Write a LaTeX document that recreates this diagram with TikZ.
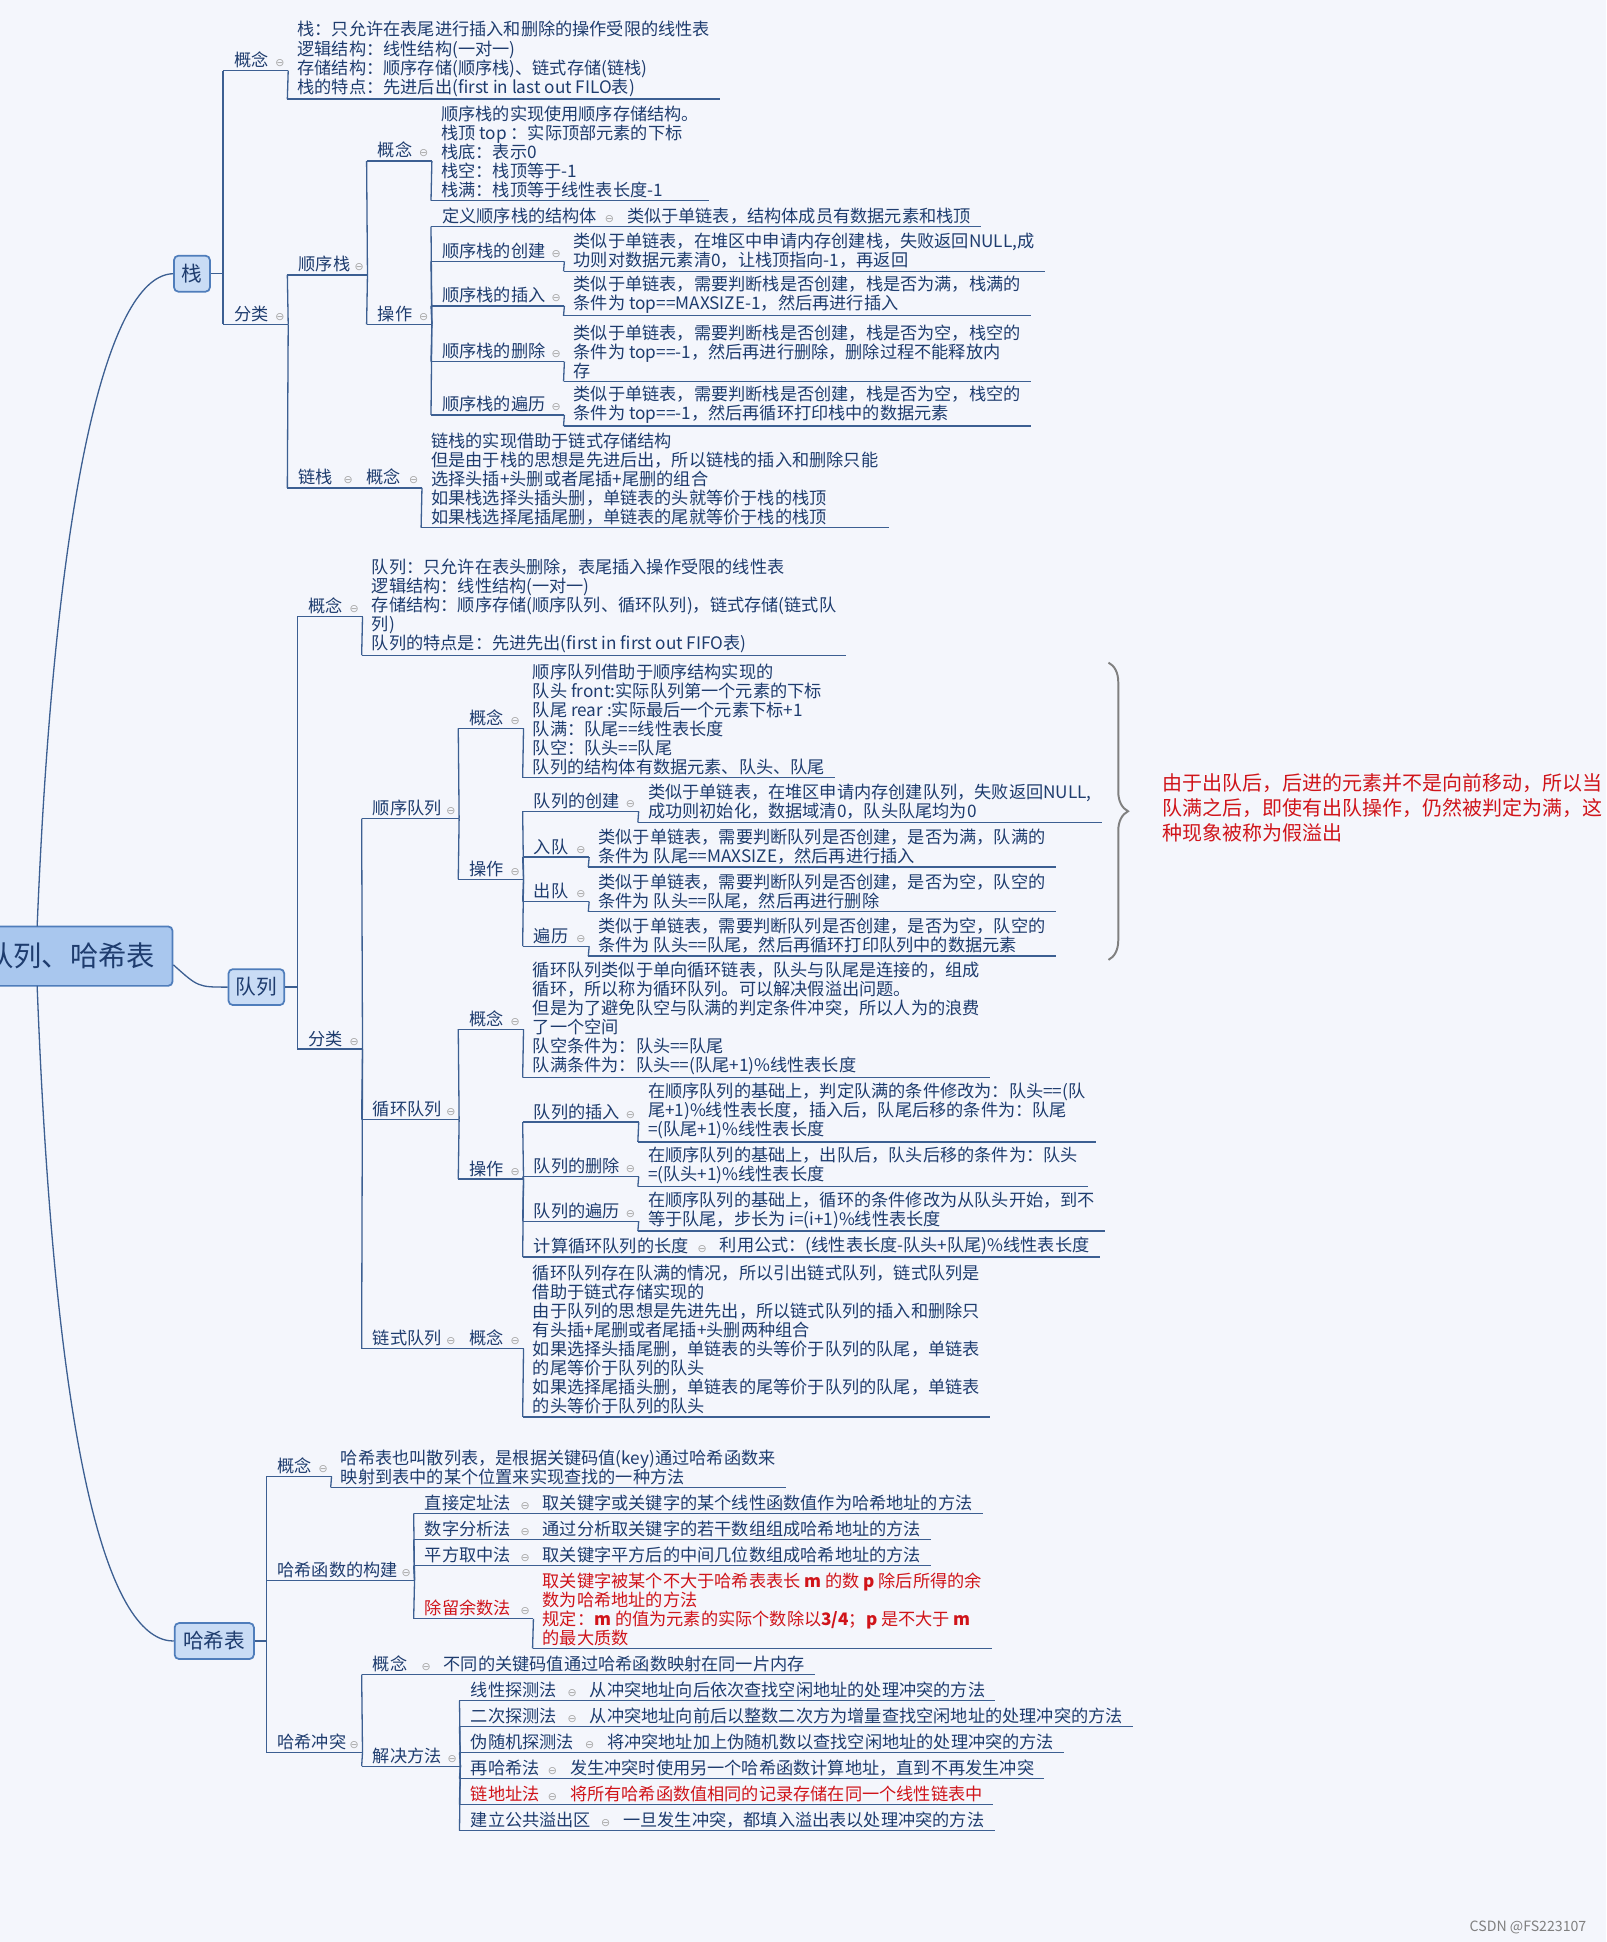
\documentclass[tikz,border=0pt]{standalone}
\usepackage{fontspec}
\setmainfont{Noto Sans CJK SC}
\newfontfamily\symf{DejaVu Sans}
\usetikzlibrary{positioning}
\usetikzlibrary{decorations.pathreplacing}
\definecolor{bg}{HTML}{F4F6FC}
\definecolor{linec}{HTML}{3C5F92}
\definecolor{txt}{HTML}{1E3C6E}
\definecolor{boxf}{HTML}{C9DCF5}
\definecolor{rootf}{HTML}{A9C7EE}
\definecolor{boxd}{HTML}{4F7DBB}
\definecolor{redt}{HTML}{D0141A}
\newcommand\mf{\fontsize{7.9}{8.75}\selectfont}
\newcommand\fd{\hfill{\symf\color{gray!70}\fontsize{5}{5}\selectfont ⊖}\hspace*{1.5pt}}
\tikzset{
  lnk/.style={draw=linec, line width=0.6pt},
  leaf/.style={anchor=south west, align=left, inner xsep=4.5pt, inner ysep=1pt,
    text=txt, font=\mf,
    append after command={(\tikzlastnode.south west) edge[lnk] (\tikzlastnode.south east)}},
  lab/.style={anchor=south west, inner xsep=0pt, inner ysep=1pt, text=txt, font=\mf,
    /utils/exec={\pgfmathsetlengthmacro\labw{#1*0.02cm}}, text width=\labw,
    execute at begin node=\hspace*{5pt},
    append after command={(\tikzlastnode.south west) edge[lnk] (\tikzlastnode.south east)}},
  box/.style={draw=boxd, fill=boxf, rounded corners=2pt, line width=0.8pt, text=txt,
    font=\fontsize{9.5}{11}\selectfont, minimum height=29*0.02cm, inner sep=2pt},
  red/.style={text=redt}
}
\begin{document}
\begin{tikzpicture}[x=0.02cm,y=-0.02cm]
\useasboundingbox (0,0) rectangle (1297,1568);
\clip (0,0) rectangle (1297,1568);
\fill[bg] (0,0) rectangle (1297,1568);
%%%%%%%%% root
\node[box, fill=rootf, anchor=east, minimum height=48*0.02cm, font=\fontsize{13}{15}\selectfont, inner xsep=8pt] (root) at (140,772) {栈、队列、哈希表};
\coordinate (rt) at (30,748);
\coordinate (rb) at (30,796);
\node[box, minimum width=29*0.02cm] (z) at (155,221) {栈};
\node[box, minimum width=45*0.02cm] (d) at (207,797) {队列};
\node[box, minimum width=64*0.02cm] (h) at (173,1325) {哈希表};
\draw[lnk] (rt) .. controls (45,380) and (90,222) .. (z.west);
\draw[lnk] ([yshift=-4pt]root.east) .. controls (160,797) .. (d.west);
\draw[lnk] (rb) .. controls (45,1190) and (90,1325) .. (h.west);
%%%%%%%%% 栈
\node[lab=52] (zk) at (180,57) {概念\fd};
\node[leaf] (zk1) at (232,80) {栈：只允许在表尾进行插入和删除的操作受限的线性表\\逻辑结构：线性结构(一对一)\\存储结构：顺序存储(顺序栈)、链式存储(链栈)\\栈的特点：先进后出(first in last out FILO表)};
\node[lab=52] (zf) at (180,262) {分类\fd};
\node[lab=64] (zs) at (232,222) {顺序栈\fd};
\node[lab=52] (zsk) at (296,130) {概念\fd};
\node[leaf] (zsk1) at (348,162) {顺序栈的实现使用顺序存储结构。\\栈顶 top ：实际顶部元素的下标\\栈底：表示0\\栈空：栈顶等于-1\\栈满：栈顶等于线性表长度-1};
\node[lab=52] (zso) at (296,262) {操作\fd};
\node[lab=150] (zo1) at (348,183) {定义顺序栈的结构体\fd};
\node[leaf] (zo1a) at (498,183) {类似于单链表，结构体成员有数据元素和栈顶};
\node[lab=107] (zo2) at (348,211) {顺序栈的创建\fd};
\node[leaf] (zo2a) at (455,219) {类似于单链表，在堆区中申请内存创建栈，失败返回NULL,成\\功则对数据元素清0，让栈顶指向-1，再返回};
\node[lab=107] (zo3) at (348,247) {顺序栈的插入\fd};
\node[leaf] (zo3a) at (455,255) {类似于单链表，需要判断栈是否创建，栈是否为满，栈满的\\条件为 top==MAXSIZE-1，然后再进行插入};
\node[lab=107] (zo4) at (348,292) {顺序栈的删除\fd};
\node[leaf] (zo4a) at (455,308) {类似于单链表，需要判断栈是否创建，栈是否为空，栈空的\\条件为 top==-1，然后再进行删除，删除过程不能释放内\\存};
\node[lab=107] (zo5) at (348,335) {顺序栈的遍历\fd};
\node[leaf] (zo5a) at (455,344) {类似于单链表，需要判断栈是否创建，栈是否为空，栈空的\\条件为 top==-1，然后再循环打印栈中的数据元素};
\node[lab=55] (zl) at (232,394) {链栈\fd};
\node[lab=53] (zlk) at (287,394) {概念\fd};
\node[leaf] (zlk1) at (340,426) {链栈的实现借助于链式存储结构\\但是由于栈的思想是先进后出，所以链栈的插入和删除只能\\选择头插+头删或者尾插+尾删的组合\\如果栈选择头插头删，单链表的头就等价于栈的栈顶\\如果栈选择尾插尾删，单链表的尾就等价于栈的栈顶};
%%%%%%%%% 队列
\node[lab=52] (dk) at (240,498) {概念\fd};
\node[leaf] (dk1) at (292,529) {队列：只允许在表头删除，表尾插入操作受限的线性表\\逻辑结构：线性结构(一对一)\\存储结构：顺序存储(顺序队列、循环队列)，链式存储(链式队\\列)\\队列的特点是：先进先出(first in first out FIFO表)};
\node[lab=52] (df) at (240,847) {分类\fd};
\node[lab=78] (ds) at (292,661) {顺序队列\fd};
\node[lab=52] (dsk) at (370,588) {概念\fd};
\node[leaf] (dsk1) at (422,628) {顺序队列借助于顺序结构实现的\\队头 front:实际队列第一个元素的下标\\队尾 rear :实际最后一个元素下标+1\\队满：队尾==线性表长度\\队空：队头==队尾\\队列的结构体有数据元素、队头、队尾};
\node[lab=52] (dso) at (370,710) {操作\fd};
\node[lab=93] (do1) at (422,655) {队列的创建\fd};
\node[leaf] (do1a) at (515,664) {类似于单链表，在堆区申请内存创建队列，失败返回NULL,\\成功则初始化，数据域清0，队头队尾均为0};
\node[lab=53] (do2) at (422,692) {入队\fd};
\node[leaf] (do2a) at (475,700) {类似于单链表，需要判断队列是否创建，是否为满，队满的\\条件为 队尾==MAXSIZE，然后再进行插入};
\node[lab=53] (do3) at (422,728) {出队\fd};
\node[leaf] (do3a) at (475,736) {类似于单链表，需要判断队列是否创建，是否为空，队空的\\条件为 队头==队尾，然后再进行删除};
\node[lab=53] (do4) at (422,764) {遍历\fd};
\node[leaf] (do4a) at (475,772) {类似于单链表，需要判断队列是否创建，是否为空，队空的\\条件为 队头==队尾，然后再循环打印队列中的数据元素};
\node[lab=78] (dc) at (292,904) {循环队列\fd};
\node[lab=52] (dck) at (370,831) {概念\fd};
\node[leaf] (dck1) at (422,870) {循环队列类似于单向循环链表，队头与队尾是连接的，组成\\循环，所以称为循环队列。可以解决假溢出问题。\\但是为了避免队空与队满的判定条件冲突，所以人为的浪费\\了一个空间\\队空条件为：队头==队尾\\队满条件为：队头==(队尾+1)\%线性表长度};
\node[lab=52] (dco) at (370,952) {操作\fd};
\node[lab=93] (dc1) at (422,906) {队列的插入\fd};
\node[leaf] (dc1a) at (515,922) {在顺序队列的基础上，判定队满的条件修改为：队头==(队\\尾+1)\%线性表长度，插入后，队尾后移的条件为：队尾\\=(队尾+1)\%线性表长度};
\node[lab=93] (dc2) at (422,950) {队列的删除\fd};
\node[leaf] (dc2a) at (515,958) {在顺序队列的基础上，出队后，队头后移的条件为：队头\\=(队头+1)\%线性表长度};
\node[lab=93] (dc3) at (422,986) {队列的遍历\fd};
\node[leaf] (dc3a) at (515,994) {在顺序队列的基础上，循环的条件修改为从队头开始，到不\\等于队尾，步长为 i=(i+1)\%线性表长度};
\node[lab=151] (dc4) at (422,1015) {计算循环队列的长度\fd};
\node[leaf] (dc4a) at (573,1015) {利用公式：(线性表长度-队头+队尾)\%线性表长度};
\node[lab=78] (dl) at (292,1089) {链式队列\fd};
\node[lab=52] (dlk) at (370,1089) {概念\fd};
\node[leaf] (dlk1) at (422,1144) {循环队列存在队满的情况，所以引出链式队列，链式队列是\\借助于链式存储实现的\\由于队列的思想是先进先出，所以链式队列的插入和删除只\\有头插+尾删或者尾插+头删两种组合\\如果选择头插尾删，单链表的头等价于队列的队尾，单链表\\的尾等价于队列的队头\\如果选择尾插头删，单链表的尾等价于队列的队尾，单链表\\的头等价于队列的队头};
\draw[decorate, decoration={brace, amplitude=9pt}, gray, line width=0.9pt] (895,535) -- (895,775);
\node[anchor=north west, align=left, text=redt, font=\fontsize{9.2}{11.5}\selectfont, inner sep=0pt] (note) at (938,624) {由于出队后，后进的元素并不是向前移动，所以当\\队满之后，即使有出队操作，仍然被判定为满，这\\种现象被称为假溢出};
%%%%%%%%% 哈希表
\node[lab=52] (hk) at (215,1192) {概念\fd};
\node[leaf] (hk1) at (267,1201) {哈希表也叫散列表，是根据关键码值(key)通过哈希函数来\\映射到表中的某个位置来实现查找的一种方法};
\node[lab=119] (hf) at (215,1276) {哈希函数的构建\fd};
\node[lab=96] (hf1) at (334,1222) {直接定址法\fd};
\node[leaf] (hf1a) at (430,1222) {取关键字或关键字的某个线性函数值作为哈希地址的方法};
\node[lab=96] (hf2) at (334,1243) {数字分析法\fd};
\node[leaf] (hf2a) at (430,1243) {通过分析取关键字的若干数组组成哈希地址的方法};
\node[lab=96] (hf3) at (334,1264) {平方取中法\fd};
\node[leaf] (hf3a) at (430,1264) {取关键字平方后的中间几位数组成哈希地址的方法};
\node[lab=96, red] (hf4) at (334,1307) {除留余数法\fd};
\node[leaf, red] (hf4a) at (430,1331) {取关键字被某个不大于哈希表表长 \textbf{m} 的数 \textbf{p} 除后所得的余\\数为哈希地址的方法\\规定：\textbf{m} 的值为元素的实际个数除以\textbf{3/4}；\textbf{p} 是不大于 \textbf{m}\\的最大质数};
\node[lab=77] (hc) at (215,1415) {哈希冲突\fd};
\node[lab=58] (hck) at (292,1352) {概念\fd};
\node[leaf] (hck1) at (350,1352) {不同的关键码值通过哈希函数映射在同一片内存};
\node[lab=79] (hcm) at (292,1426) {解决方法\fd};
\node[lab=97] (hm1) at (371,1373) {线性探测法\fd};
\node[leaf] (hm1a) at (468,1373) {从冲突地址向后依次查找空闲地址的处理冲突的方法};
\node[lab=97] (hm2) at (371,1394) {二次探测法\fd};
\node[leaf] (hm2a) at (468,1394) {从冲突地址向前后以整数二次方为增量查找空闲地址的处理冲突的方法};
\node[lab=111] (hm3) at (371,1415) {伪随机探测法\fd};
\node[leaf] (hm3a) at (482,1415) {将冲突地址加上伪随机数以查找空闲地址的处理冲突的方法};
\node[lab=81] (hm4) at (371,1436) {再哈希法\fd};
\node[leaf] (hm4a) at (452,1436) {发生冲突时使用另一个哈希函数计算地址，直到不再发生冲突};
\node[lab=81, red] (hm5) at (371,1457) {链地址法\fd};
\node[leaf, red] (hm5a) at (452,1457) {将所有哈希函数值相同的记录存储在同一个线性链表中};
\node[lab=124] (hm6) at (371,1478) {建立公共溢出区\fd};
\node[leaf] (hm6a) at (495,1478) {一旦发生冲突，都填入溢出表以处理冲突的方法};
%%%%%%%%% connectors
\foreach \c in {zk,zf} \draw[lnk] (z.east) -| (\c.south west);
\foreach \c in {dk,df} \draw[lnk] (d.east) -| (\c.south west);
\foreach \c in {hk,hf,hc} \draw[lnk] (h.east) -| (\c.south west);
\foreach \p/\c in {zk/zk1, zf/zs, zf/zl, zs/zsk, zs/zso, zsk/zsk1,
  zso/zo1, zso/zo2, zso/zo3, zso/zo4, zso/zo5,
  zo1/zo1a, zo2/zo2a, zo3/zo3a, zo4/zo4a, zo5/zo5a, zl/zlk, zlk/zlk1,
  dk/dk1, df/ds, df/dc, df/dl, ds/dsk, ds/dso, dsk/dsk1,
  dso/do1, dso/do2, dso/do3, dso/do4, do1/do1a, do2/do2a, do3/do3a, do4/do4a,
  dc/dck, dc/dco, dck/dck1, dco/dc1, dco/dc2, dco/dc3, dco/dc4,
  dc1/dc1a, dc2/dc2a, dc3/dc3a, dc4/dc4a, dl/dlk, dlk/dlk1,
  hk/hk1, hf/hf1, hf/hf2, hf/hf3, hf/hf4, hf1/hf1a, hf2/hf2a, hf3/hf3a, hf4/hf4a,
  hc/hck, hc/hcm, hck/hck1, hcm/hm1, hcm/hm2, hcm/hm3, hcm/hm4, hcm/hm5, hcm/hm6,
  hm1/hm1a, hm2/hm2a, hm3/hm3a, hm4/hm4a, hm5/hm5a, hm6/hm6a}
  \draw[lnk] (\p.south east) -- (\c.south west);
\node[anchor=east, text=gray, font=\fontsize{6.5}{7}\selectfont] (mark) at (1287,1556) {CSDN @FS223107};
\end{tikzpicture}
\end{document}
